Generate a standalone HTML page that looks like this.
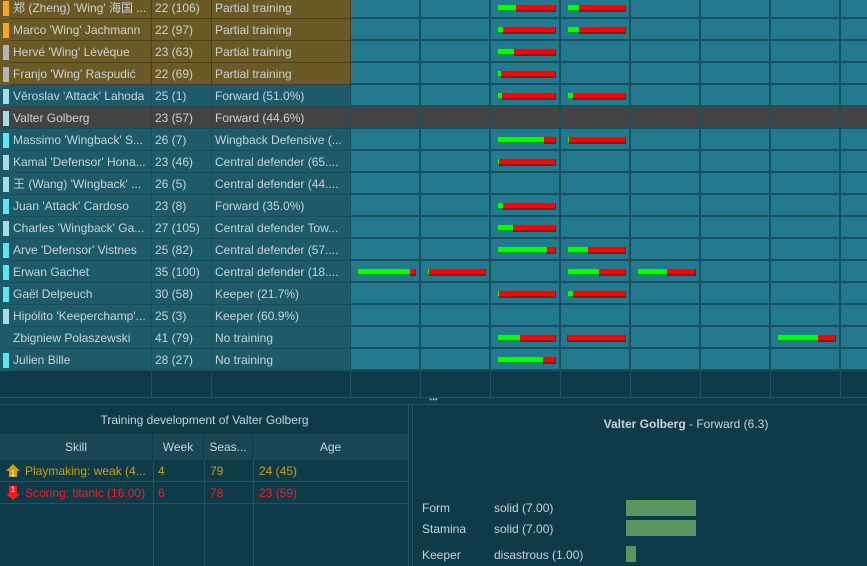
<!DOCTYPE html>
<html><head><meta charset="utf-8">
<style>
*{box-sizing:border-box;margin:0;padding:0}
body{width:867px;height:566px;overflow:hidden;background:#0f3a4a;font-family:"Liberation Sans","Noto Sans CJK SC",sans-serif;font-size:12px;color:#c9d3d7;position:relative}
.abs{position:absolute}
.cell{position:absolute;height:22px;line-height:23px;white-space:nowrap;overflow:hidden;padding-left:3px;border-right:1px solid #1a4a58;border-bottom:1px solid #1a4a58}
.g{position:absolute;background:#237a8e;border-right:2px solid #1b5060;border-bottom:2px solid #1b5060;height:22px;width:70px}
</style></head><body>
<div id="tbl" class="abs" style="left:0;top:0;width:867px;height:397px;background:#0f3a4a"></div>
<div class="abs" style="left:0;top:397px;width:867px;height:8px;background:#103c4c;border-top:1px solid #1f5565;border-bottom:1px solid #1f5565;text-align:center;font-size:8px;line-height:4px;color:#aaa">•••</div>

<div class="abs" style="left:0;top:405px;width:409px;height:161px;background:#0f3a4a;border-right:1px solid #1f5565">
 <div class="abs" style="left:0;top:8px;width:409px;text-align:center">Training development of Valter Golberg</div>
 <div class="abs" style="left:0;top:29px;width:153px;height:26px;line-height:26px;text-align:center;background:#1b4656;border-right:1px solid #0f3a4a">Skill</div>
 <div class="abs" style="left:153px;top:29px;width:51px;height:26px;line-height:26px;text-align:center;background:#1b4656;border-right:1px solid #0f3a4a">Week</div>
 <div class="abs" style="left:204px;top:29px;width:49px;height:26px;line-height:26px;text-align:center;background:#1b4656;border-right:1px solid #0f3a4a">Seas...</div>
 <div class="abs" style="left:253px;top:29px;width:155px;height:26px;line-height:26px;text-align:center;background:#1b4656">Age</div>
 <div class="abs" style="left:153px;top:55px;width:1px;height:106px;background:#1f5565"></div>
 <div class="abs" style="left:204px;top:55px;width:1px;height:106px;background:#1f5565"></div>
 <div class="abs" style="left:253px;top:55px;width:1px;height:106px;background:#1f5565"></div>
 <div class="abs" style="left:0;top:55px;width:408px;height:22px;line-height:22px;color:#c8a010;border-bottom:1px solid #1f5565">
  <span class="abs" style="left:6px;top:4px;width:0;height:0;border-left:7px solid transparent;border-right:7px solid transparent;border-bottom:7px solid #c8a010"></span>
  <span class="abs" style="left:9px;top:10px;width:8px;height:7px;background:#c8a010;color:#fff;font-size:8px;line-height:7px;text-align:center">1</span>
  <span class="abs" style="left:25px">Playmaking: weak (4...</span><span class="abs" style="left:158px">4</span><span class="abs" style="left:210px">79</span><span class="abs" style="left:259px">24 (45)</span></div>
 <div class="abs" style="left:0;top:77px;width:408px;height:22px;line-height:22px;color:#ff1a1a;border-bottom:1px solid #1f5565">
  <span class="abs" style="left:9px;top:4px;width:8px;height:8px;background:#ff1a1a;color:#fff;font-size:8px;line-height:8px;text-align:center">1</span>
  <span class="abs" style="left:6px;top:12px;width:0;height:0;border-left:7px solid transparent;border-right:7px solid transparent;border-top:6px solid #ff1a1a"></span>
  <span class="abs" style="left:25px">Scoring: titanic (16.00)</span><span class="abs" style="left:158px">6</span><span class="abs" style="left:210px">78</span><span class="abs" style="left:259px">23 (59)</span></div>
</div>
<div class="abs" style="left:412px;top:405px;width:1px;height:161px;background:#1f5565"></div>
<div class="abs" style="left:417px;top:405px;width:450px;height:161px">
 <div class="abs" style="left:0;top:12px;width:538px;text-align:center"><b>Valter Golberg</b> - Forward (6.3)</div>
 <div class="abs" style="left:5px;top:96px">Form</div><div class="abs" style="left:77px;top:96px">solid (7.00)</div><div class="abs" style="left:209px;top:95px;width:70px;height:16px;background:#5a9660"></div>
 <div class="abs" style="left:5px;top:117px">Stamina</div><div class="abs" style="left:77px;top:117px">solid (7.00)</div><div class="abs" style="left:209px;top:115px;width:70px;height:16px;background:#5a9660"></div>
 <div class="abs" style="left:5px;top:143px">Keeper</div><div class="abs" style="left:77px;top:143px">disastrous (1.00)</div><div class="abs" style="left:209px;top:141px;width:10px;height:16px;background:#5a9660"></div>
</div>
<script>
const names=["郑 (Zheng)  'Wing' 海国 ...","Marco 'Wing' Jachmann","Hervé 'Wing' Lévêque","Franjo 'Wing' Raspudić","Věroslav 'Attack' Lahoda","Valter Golberg","Massimo 'Wingback' S...","Kamal 'Defensor' Hona...","王 (Wang) 'Wingback' ...","Juan 'Attack' Cardoso","Charles 'Wingback' Ga...","Arve 'Defensor' Vistnes","Erwan Gachet","Gaël Delpeuch","Hipólito 'Keeperchamp'...","Zbigniew Polaszewski","Julien Bille"];
const ages=["22 (106)","22 (97)","23 (63)","22 (69)","25 (1)","23 (57)","26 (7)","23 (46)","26 (5)","23 (8)","27 (105)","25 (82)","35 (100)","30 (58)","25 (3)","41 (79)","28 (27)"];
const trainings=["Partial training","Partial training","Partial training","Partial training","Forward (51.0%)","Forward (44.6%)","Wingback Defensive (...","Central defender (65....","Central defender (44....","Forward (35.0%)","Central defender Tow...","Central defender (57....","Central defender (18....","Keeper (21.7%)","Keeper (60.9%)","No training","No training"];
const markers=["#f5a623","#f5a623","#b4b4b4","#b4b4b4","#a8dbe8","#a8dbe8","#5fe3f3","#a8dbe8","#a8dbe8","#5fe3f3","#a8dbe8","#5fe3f3","#5fe3f3","#5fe3f3","#a8dbe8","","#5fe3f3"];
const barRows=[0,0,1,1,2,3,4,4,6,6,7,9,10,11,11,12,12,12,12,13,13,15,15,15,16];
const barCols=[2,3,2,3,2,2,2,3,2,3,2,2,2,2,3,0,1,3,4,2,3,2,3,6,2];
const barFrac=[0.33,0.2,0.11,0.2,0.28,0.06,0.09,0.11,0.8,0.03,0.01,0.11,0.27,0.85,0.35,0.9,0.03,0.54,0.51,0.03,0.1,0.39,0,0.69,0.78];
const tbl=document.getElementById('tbl');
const RH=22,Y0=-3,GX=351,CW=70;
function rowY(i){return Y0+i*RH;}
function colX(c){return GX+c*CW;}
for(let i=0;i<names.length;i++){
 const y=rowY(i);
 const bg=i<4?'#6b5a26':(i==5?'#434343':'#1d5a6a');
 const r=document.createElement('div');
 
 
 r.style.cssText=`position:absolute;left:0;top:${y}px;width:351px;height:22px;background:${bg}`;
 const cells=[[10,142,names[i]],[152,60,ages[i]],[212,139,trainings[i]]];
 cells.forEach(c=>{const d=document.createElement('div');d.className='cell';d.style.left=c[0]+'px';d.style.width=c[1]+'px';d.style.top='0';d.style.borderColor=i<4?'#4a4020':'#174c5a';d.textContent=c[2];r.appendChild(d);});
 if(markers[i]){const m=document.createElement('div');
  
  
  m.style.cssText=`position:absolute;left:3px;top:4px;width:6px;height:15px;background:${markers[i]}`;r.appendChild(m);}
 tbl.appendChild(r);
 for(let c=0;c<8;c++){const g=document.createElement('div');
  
  
  g.className='g';g.style.left=colX(c)+'px';g.style.top=y+'px';
  if(i==5)g.style.background='#434343';
  if(c==7)g.style.width='30px';
  tbl.appendChild(g);}
}
const ey=rowY(names.length);
[[0,152],[152,60],[212,139]].concat([0,1,2,3,4,5,6,7].map(c=>[colX(c),c==7?30:CW])).forEach(a=>{const e=document.createElement('div');
 
 
 e.style.cssText=`position:absolute;left:${a[0]}px;top:${ey}px;width:${a[1]}px;height:${397-ey}px;border-right:1px solid #1f5262;background:#0f3a4a`;tbl.appendChild(e);});
for(let k=0;k<barRows.length;k++){
 const x=colX(barCols[k])+6,y=rowY(barRows[k])+8,w=59,gw=Math.round(w*barFrac[k]);
 const b=document.createElement('div');
 
 
 b.style.cssText=`position:absolute;left:${x}px;top:${y}px;width:${w}px;height:7px;background:#ff0000;border-left:1px solid #b80000;border-right:1px solid #b80000`;
 const s=document.createElement('div');
 s.style.cssText='position:absolute;left:0;right:0;bottom:0;height:2px;background:#b80000';
 b.appendChild(s);
 if(barFrac[k]>0){
  const gdiv=document.createElement('div');
  
  
  gdiv.style.cssText=`position:absolute;left:-1px;top:0;width:${Math.max(gw,2)}px;height:7px;background:#00ff00;border-bottom:2px solid #00a800;border-left:1px solid #00a800`;
  b.appendChild(gdiv);
 }
 tbl.appendChild(b);
}
</script>
</body></html>
